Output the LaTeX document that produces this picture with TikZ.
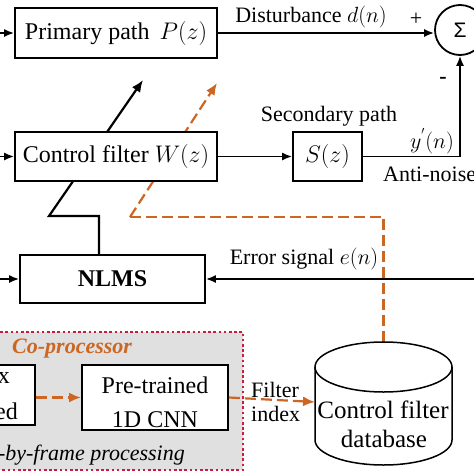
\RequirePackage{fix-cm}
\documentclass[tikz,border=0pt]{standalone}
\usepackage{fontspec}
\setmainfont{Liberation Serif}
\newfontfamily\sumfont{Liberation Sans}
\usetikzlibrary{arrows.meta}
\definecolor{orng}{RGB}{204,102,34}
\definecolor{dotred}{RGB}{200,30,60}
\definecolor{cpgray}{RGB}{224,224,224}
\pgfdeclarelayer{back}
\pgfdeclarelayer{mid}
\pgfsetlayers{back,mid,main}
\begin{document}
\begin{tikzpicture}[x=1pt,y=-1pt,
  box/.style={draw, line width=1.8pt, inner sep=0pt, fill=white, font=\fontsize{24}{28}\selectfont, align=center},
  txt/.style={font=\fontsize{24}{28}\selectfont, inner sep=0pt},
  lbl/.style={font=\fontsize{22}{26}\selectfont, inner sep=0pt},
  wire/.style={line width=1.6pt},
  arr/.style={wire, -{Latex[length=10pt,width=8pt]}},
  oarr/.style={line width=2.2pt, draw=orng, dash pattern=on 11pt off 5pt, -{Latex[length=12pt,width=10pt]}},
  oline/.style={line width=2.2pt, draw=orng, dash pattern=on 11pt off 5pt}
]
\useasboundingbox (0,0) rectangle (474,474);
% co-processor area
\begin{pgfonlayer}{back}
\fill[cpgray] (-5,332) rectangle (243,470);
\draw[dotred, line width=1.3pt, dash pattern=on 2.6pt off 2.6pt] (-5,332) -- (243,332) -- (243,470) -- (-5,470);
\end{pgfonlayer}
\node[lbl, font=\fontsize{22}{26}\selectfont\bfseries\itshape, text=orng, anchor=west] (cop) at (12,349) {Co-processor};
\node[lbl, font=\fontsize{22}{26}\selectfont\itshape, anchor=base east] (fbf) at (185,460) {Frame-by-frame processing};

% blocks
\node[box, minimum width=202pt, minimum height=50pt] (pp) at (116,33) {Primary path\hspace{10pt}$P(z)$};
\node[box, minimum width=202pt, minimum height=49pt] (cf) at (116,156.5) {Control filter $W(z)$};
\node[box, minimum width=69pt, minimum height=49pt] (sz) at (327.5,156.5) {$S(z)$};
\node[box, minimum width=185pt, minimum height=48pt, font=\fontsize{24}{28}\selectfont\bfseries] (nlms) at (112.5,279) {NLMS};
\node[draw, circle, line width=1.8pt, minimum size=50pt, inner sep=0pt, fill=white] (sum) at (460,30) {\sumfont\fontsize{21}{24}\selectfont Σ};
\node[box, minimum width=60pt, minimum height=60pt] (lb) at (5,395) {};
\node[txt, anchor=base east] (lbt1) at (10,383) {x};
\node[txt, anchor=base east] (lbt2) at (18,419) {ed};
\node[box, minimum width=146pt, minimum height=65pt] (cnn) at (155,397.5) {};
\node[txt, anchor=base] (cnnt1) at (155,393) {Pre-trained};
\node[txt, anchor=base] (cnnt2) at (155,427) {1D CNN};

% database cylinder
\coordinate (dbtop) at (383.5,342);
\coordinate (dbl) at (315,402);
\draw[line width=1.5pt] (383.5,367) ellipse [x radius=68.5pt, y radius=25pt];
\draw[line width=1.5pt] (315,367) -- (315,440) arc[start angle=180, end angle=360, x radius=68.5pt, y radius=25pt] -- (452,367);
\node[txt, font=\fontsize{25}{28}\selectfont, anchor=base] (dbt1) at (383,418) {Control filter};
\node[txt, font=\fontsize{25}{28}\selectfont, anchor=base] (dbt2) at (384,447) {database};

% coordinates
\coordinate (in1) at (-2,33);
\coordinate (in2) at (-2,156.5);
\coordinate (in3) at (-2,279);
\coordinate (errR) at (476,279);
\coordinate (bk1) at (99,216);
\coordinate (bk2) at (49,216);
\coordinate (btip) at (143,80);
\coordinate (obend) at (130,217);
\coordinate (otip) at (217,83);

% connectors
\draw[arr] (in1) -- (pp.west);
\draw[arr] (in2) -- (cf.west);
\draw[arr] (in3) -- (nlms.west);
\draw[arr] (pp.east) -- (pp.east -| sum.west);
\draw[arr] (cf.east) -- (sz.west);
\draw[arr] (sz.east) -| (sum.south);
\begin{pgfonlayer}{back}
\draw[arr] (errR) -- (nlms.east);
\end{pgfonlayer}
\begin{pgfonlayer}{mid}
\draw[line width=2.2pt, -{Latex[length=12pt,width=10pt]}] (bk1 |- nlms.north) -- (bk1) -- (bk2) -- (btip);
\draw[oline] (dbtop) |- (obend);
\draw[oarr] (obend) -- (otip);
\end{pgfonlayer}
\draw[oarr] (cnn.east) -- (dbl);
\draw[oarr] (lb.east |- cnn.east) -- (cnn.west);

% labels
\node[lbl] (dist) at (311,17) {Disturbance $d(n)$};
\node[lbl] (plus) at (416,19) {+};
\node[lbl, font=\fontsize{22}{26}\selectfont\bfseries] (minus) at (443,80) {-};
\node[lbl] (sec) at (329,116) {Secondary path};
\node[lbl] (yp) at (432,141) {$y^{'}(n)$};
\node[lbl, anchor=west] (anti) at (383,174) {Anti-noise};
\node[lbl] (err) at (304,259) {Error signal $e(n)$};
\node[lbl, align=left, anchor=west] (fi) at (251,402) {Filter\\[-2pt]index};
\end{tikzpicture}
\end{document}
